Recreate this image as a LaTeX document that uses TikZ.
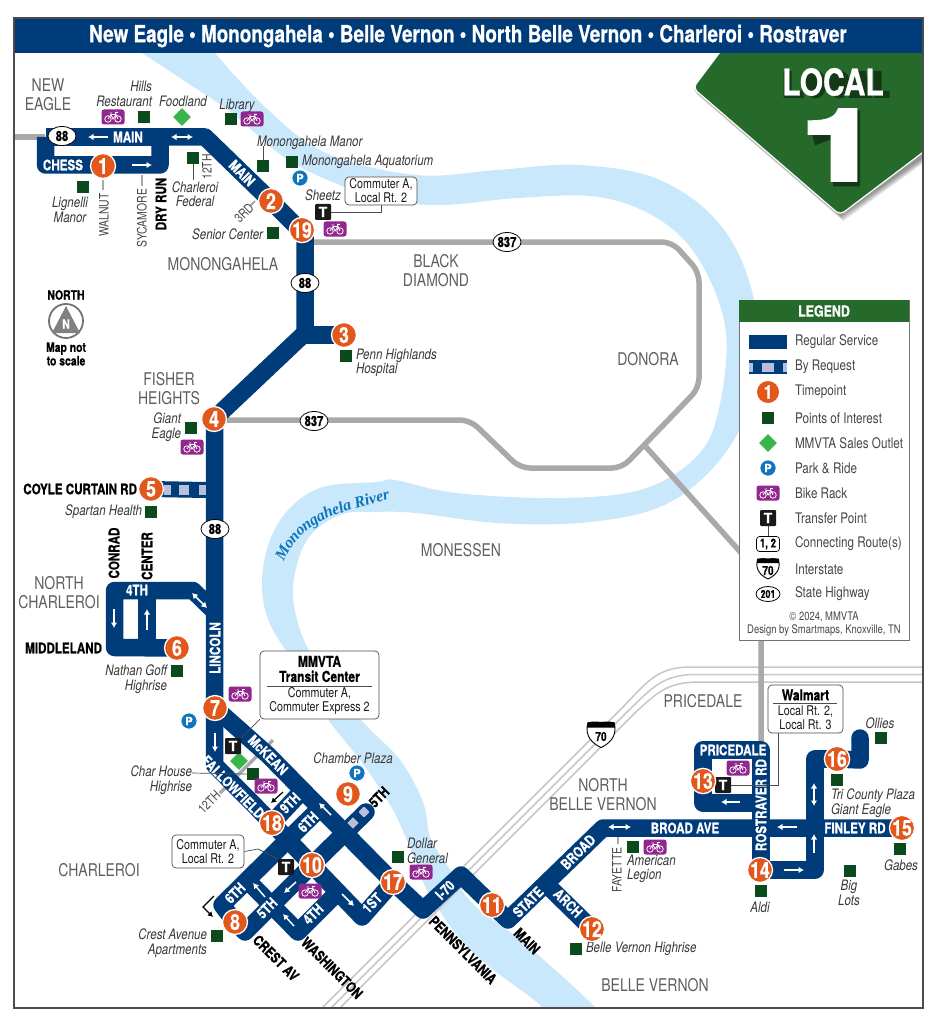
\documentclass[tikz,border=0pt]{standalone}
\usepackage{fontspec}
\setmainfont{TeX Gyre Heros}[BoldFeatures={FakeBold=1}]
\newfontfamily\cond{TeX Gyre Heros}[FakeStretch=0.8,BoldFeatures={FakeBold=.7}]
\newfontfamily\bigone{TeX Gyre Heros}[BoldFeatures={FakeBold=6}]
\newfontfamily\rfont{Liberation Serif}
\usetikzlibrary{shapes.geometric,arrows.meta,decorations.text}
\definecolor{routeblue}{HTML}{003B7A}
\definecolor{stoporange}{HTML}{E2581C}
\definecolor{poigreen}{HTML}{0B4A1C}
\definecolor{salegreen}{HTML}{39B54A}
\definecolor{river}{HTML}{C9E8FB}
\definecolor{road}{HTML}{A9A9A9}
\definecolor{signgreen}{HTML}{25692B}
\definecolor{bikepurple}{HTML}{92278F}
\definecolor{pblue}{HTML}{0F75BC}
\definecolor{towngray}{HTML}{5F5F5F}
\definecolor{paleblue}{HTML}{B7BFDD}
\newcount\nodec
\newcommand\nid{\global\advance\nodec by 1 }
\newcommand\Lab[3][]{\nid\node[lab,#1] (L\the\nodec) at (#2) {#3};}
\newcommand\poi[1]{\nid\node[poibox] (Q\the\nodec) at (#1) {};}
\newcommand\pride[1]{\nid\node[pcirc] (P\the\nodec) at (#1) {P};}
\newcommand\sale[1]{\nid\node[salebox] (D\the\nodec) at (#1) {};}
\newcommand\shield[2]{\nid\node[stateshield] (H\the\nodec) at (#1) {#2};}
\newcommand\bike[1]{\nid\node[bikebox] (B\the\nodec) at (#1) {};
 \begin{scope}[shift={(#1)},white,line width=.8pt]
 \draw (-5,2) circle[radius=3.2pt]; \draw (5,2) circle[radius=3.2pt];
 \draw (-5,2)--(-2,-2.5)--(3,-2.5)--(5,2) (-2,-2.5)--(0,2)--(3,-2.5) (-3.5,-4)--(-1,-4) (3,-2.5)--(2.5,-4.6)--(4.8,-4.6);
 \end{scope}}
\newcommand\ishield[3]{\begin{scope}[shift={(#1)},scale=#3]
 \draw[fill=white,draw=black,line width=.9pt,line join=round] (-13,-12.5) -- (13,-12.5) .. controls (15.5,-4) and (14,6) .. (0,12.5) .. controls (-14,6) and (-15.5,-4) .. (-13,-12.5) -- cycle;
 \fill[black] (-13,-12.5) .. controls (-8,-14) and (-4,-13.5) .. (0,-13) .. controls (4,-13.5) and (8,-14) .. (13,-12.5) -- (14,-7.5) -- (-14,-7.5) -- cycle;
 \end{scope}\nid\node[lab,font=\cond\bfseries\fontsize{12.5}{12}\selectfont] (I\the\nodec) at (#1) [yshift=-1.5pt] {#2};}
\tikzset{
 lab/.style={inner sep=0pt,outer sep=0pt},
 town/.style={font=\cond\fontsize{17.5}{19}\selectfont,text=towngray,align=center},
 poit/.style={font=\cond\itshape\fontsize{14.4}{14.5}\selectfont,text=black!78},
 street/.style={font=\cond\bfseries\fontsize{14.5}{15}\selectfont,text=white},
 sblack/.style={font=\cond\bfseries\fontsize{14.5}{15}\selectfont,text=black},
 sgray/.style={font=\cond\fontsize{13}{13}\selectfont,text=black!72},
 legt/.style={font=\cond\fontsize{14.6}{15}\selectfont,text=black!72,anchor=west},
 ctext/.style={font=\cond\fontsize{13.4}{14}\selectfont,text=black!90,align=center},
 chead/.style={font=\cond\bfseries\fontsize{15}{15}\selectfont,text=black,align=center},
 poibox/.style={fill=poigreen,minimum size=12.5pt,inner sep=0pt},
 salebox/.style={diamond,fill=salegreen,minimum size=18pt,inner sep=0pt},
 bikebox/.style={fill=bikepurple,rounded corners=2.5pt,minimum width=23pt,minimum height=15pt,inner sep=0pt},
 pcirc/.style={circle,fill=pblue,draw=white,line width=.6pt,minimum size=16pt,inner sep=0pt,text=white,font=\bfseries\fontsize{11}{11}\selectfont},
 tbox/.style={fill=black!90,rounded corners=1pt,minimum size=16pt,inner sep=0pt,text=white,font=\bfseries\fontsize{14}{14}\selectfont},
 stateshield/.style={ellipse,draw=black,fill=white,line width=.8pt,minimum width=28pt,minimum height=19pt,inner sep=0pt,font=\cond\bfseries\fontsize{14}{13}\selectfont},
 stopdot/.style={circle,fill=stoporange,draw=white,line width=1.3pt,minimum size=25pt,inner sep=0pt,text=white,font=\cond\bfseries\fontsize{22}{22}\selectfont},
 callout/.style={draw=black!70,fill=white,rounded corners=4pt,line width=.7pt,inner sep=0pt},
 route/.style={draw=routeblue,line width=17.5pt,line join=round},
 graywide/.style={draw=road,line width=5.5pt,line join=round,rounded corners=10pt},
 iroad/.style={draw=black!22,line width=1.5pt},
 tick/.style={draw=road,line width=2pt},
 leader/.style={draw=black!70,line width=.7pt},
 warr/.style={draw=white,line width=1.5pt,-{Latex[length=5.5pt,width=6.5pt]}},
 warrb/.style={draw=white,line width=1.5pt,{Latex[length=5.5pt,width=6.5pt]}-{Latex[length=5.5pt,width=6.5pt]}},
 barr/.style={draw=black,line width=1.2pt,-{Latex[length=5pt,width=6pt]}},
 pale/.style={fill=paleblue,inner sep=0pt,minimum size=9pt},
}
\begin{document}
\begin{tikzpicture}[x=1pt,y=-1pt]
\useasboundingbox (0,0) rectangle (937,1024);
\fill[white] (0,0) rectangle (937,1024);
\foreach \n/\x/\y in {1/103/166,2/271/201,3/344/335,4/214/419,5/151/489,6/177/648,7/215/708,8/235/922,9/348/794,10/312/865,11/492/905,12/592/929,13/703/781,14/760/870,15/902/828,16/837/759,17/393/882,18/272/823,19/302/230}{\coordinate (s\n) at (\x,\y);}
\begin{scope}
\clip (14,18) rectangle (923,1008);
% river
\fill[river] plot[smooth,tension=.6] coordinates {(208,45)(265,107)(326,153)(416,175)(497,170)(579,165)(660,180)(722,227)(754,300)(754,383)(738,433)(701,480)(652,510)(579,523)(497,523)(416,513)(375,512)(340,515)(307,540)(293,589)(303,638)(327,676)(363,722)(400,760)(423,802)(430,837)(447,865)(473,904)(523,942)(593,1005)(600,1020)(545,1020)(540,1005)(490,967)(457,935)(427,890)(413,855)(393,810)(363,764)(327,718)(303,676)(270,624)(262,582)(270,540)(290,508)(323,487)(377,482)(395,480)(456,493)(558,498)(640,490)(693,460)(717,417)(726,333)(701,263)(660,220)(599,197)(518,198)(440,205)(375,197)(293,163)(232,113)(183,80)(130,45)} -- cycle;
% sign
\foreach \o in {1,2,...,7}{\fill[black,opacity=.07] (723,50) -- ({693+\o*.5},{88+\o*.9}) -- ({840+\o*.5},{215+\o*.9}) -- (930,{152+\o*.9}) -- (930,50) -- cycle;}
\draw[fill=signgreen,draw=white,line width=1.2pt,rounded corners=5pt] (723,48) -- (693,88) -- (840,215) -- (926,150) -- (926,48) -- cycle;
% sign letter shadows
\begin{scope}[shift={(2.5,3)}]
\fill[black,opacity=.45] (781,68) -- (789,68) -- (789,88) -- (801,88) -- (801,95) -- (781,95) -- cycle (813,81.5) ellipse[x radius=11pt,y radius=14pt] (837,81.5) ellipse[x radius=11pt,y radius=14pt] (846,95) -- (853,68) -- (863,68) -- (870,95) -- cycle (871,68) -- (879,68) -- (879,88) -- (887,88) -- (887,95) -- (871,95) -- cycle;
\end{scope}
\begin{scope}[shift={(3,3.5)}]
\fill[black,opacity=.45] (839,107) -- (857,107) -- (857,183) -- (830,183) -- (830,135) -- (812,142) -- (808,127) -- cycle;
\end{scope}
% interstate
\draw[iroad] (318,1012) -- (620,710) .. controls (645,685) and (655,667) .. (690,667) -- (930,667);
\draw[iroad] (327,1012) -- (629,710) .. controls (652,688) and (663,674.5) .. (695,674.5) -- (930,674.5);
\draw[iroad] (336,1012) -- (638,710) .. controls (660,690) and (670,682) .. (700,682) -- (930,682);
% roads
\draw[graywide] (15,137) -- (45,137);
\draw[graywide] (305,242) -- (672,242) -- (699,272) -- (699,388) -- (622,468) -- (520,468) -- (470,420) -- (214,420);
\draw[draw=road,line width=5.5pt,line join=round] (646,447) -- (761,575) -- (761,750);
\draw[draw=road,line width=3.5pt] (220,793) -- (273,740);
\draw[tick] (103,180) -- (103,190);
\draw[tick] (142,175) -- (142,186);
\draw[tick] (618,836) -- (618,844);
\draw[tick] (250,206) -- (255,201);
% routes
\draw[route] (45.5,137) -- (45.5,165) -- (160,165) -- (160,137) -- (205,137) -- (s2) -- (305,235) -- (305,333) -- (s4) -- (214.5,420) -- (214.5,708);
\draw[route] (45.5,137) -- (160,137);
\draw[route] (305,335) -- (s3);
\draw[route] (214.5,708) -- (214.5,765) -- (s18) -- (s10) -- (362,917) -- (s17);
\draw[route] (s7) -- (268,755) -- (s17) -- (423,910) -- (461,875) -- (s11) -- (508,920) -- (603,828) -- (s15);
\draw[route,line cap=round] (320,808) -- (222,905) -- (s8) -- (245,932) -- (s10) -- (366,812);
\draw[route] (s18) -- (303,790);
\draw[route] (245,878) -- (298,932) -- (338,892);
\draw[route] (547,885) -- (s12);
\draw[route] (761,870) -- (761,750) -- (703,750) -- (703,803) -- (761,803);
\draw[route] (s14) -- (815,870) -- (815,759) -- (s16);
\draw[route,line cap=round] (s16) -- (860,760) -- (860,738);
\draw[route] (214,611) -- (193,590.5) -- (114.5,590.5) -- (114.5,647.5) -- (s6);
\draw[route] (147,590) -- (147,647);
\draw[route,line width=16pt] (s5) -- (206,490);
\nid\node[pale,minimum width=7pt,minimum height=10pt] (R\the\nodec) at (167,490) {};
\nid\node[pale,minimum width=10pt,minimum height=10pt] (R\the\nodec) at (184,490) {};
\nid\node[pale,minimum width=7pt,minimum height=10pt] (R\the\nodec) at (202,490) {};
\nid\node[pale,rotate=45,minimum size=8pt] (R\the\nodec) at (353,823) {};
\nid\node[pale,rotate=45,minimum size=8pt,rounded corners=1pt] (R\the\nodec) at (364,812) {};
% white arrows
\draw[warr] (108,137) -- (88,137);
\draw[warrb] (171,137) -- (193,137);
\draw[warr] (132,165) -- (152,165);
\draw[warr] (114,609) -- (114,628);
\draw[warr] (147,630) -- (147,609);
\draw[warrb] (192,593) -- (207,608);
\draw[warr] (215,733) -- (215,752);
\draw[warr] (331,815) -- (319,803);
\draw[warr] (265,897) -- (253,883);
\draw[warr] (294,926) -- (283,914);
\draw[warr] (296,882) -- (284,893);
\draw[warr] (342,894) -- (354,906);
\draw[warrb] (608,827) -- (631,827);
\draw[warr] (740,802) -- (721,802);
\draw[warr] (797,827) -- (777,827);
\draw[warrb] (814,783) -- (814,806);
\draw[warr] (814,853) -- (814,834);
\draw[warr] (784,870) -- (804,870);
\draw[barr] (283,792) -- (271,803);
\draw[barr] (214,896) -- (203,907) -- (213,917);
% town names
\Lab[town]{48,95}{NEW\\EAGLE}
\Lab[town]{223,264}{MONONGAHELA}
\Lab[town]{436,271}{BLACK\\DIAMOND}
\Lab[town]{648,359}{DONORA}
\Lab[town]{169,389}{FISHER\\HEIGHTS}
\Lab[town]{461,550}{MONESSEN}
\Lab[town]{59,593}{NORTH\\CHARLEROI}
\Lab[town]{99,870}{CHARLEROI}
\Lab[town]{703,701}{PRICEDALE}
\Lab[town]{603,795}{NORTH\\BELLE VERNON}
\Lab[town]{655,985}{BELLE VERNON}
% river label
\path[decorate,decoration={text along path,text align=center,raise=-4pt,text={|\rfont\bfseries\itshape\fontsize{16}{16}\selectfont\color{pblue}|Monongahela River}}] (277,568) .. controls (295,515) and (340,508) .. (398,493);
% white street labels
\Lab[street]{128,137}{MAIN}
\Lab[street]{63,165}{CHESS}
\Lab[street,rotate=-45]{242,173}{MAIN}
\Lab[street]{137,590}{4TH}
\Lab[street,rotate=90]{215,648}{LINCOLN}
\Lab[street,rotate=-45]{268,755}{McKEAN}
\Lab[street,rotate=-45]{233,787}{FALLOWFIELD}
\Lab[street,rotate=45]{290,803}{9TH}
\Lab[street,rotate=45]{308,822}{6TH}
\Lab[street,rotate=45]{235,893}{6TH}
\Lab[street,rotate=45]{267,908}{5TH}
\Lab[street,rotate=45]{313,914}{4TH}
\Lab[street,rotate=45]{372,903}{1ST}
\Lab[street,rotate=45]{445,890}{I-70}
\Lab[street,rotate=45]{528,902}{STATE}
\Lab[street,rotate=45]{578,852}{BROAD}
\Lab[street,rotate=-45]{568,903}{ARCH}
\Lab[street]{685,828}{BROAD AVE}
\Lab[street]{733,750}{PRICEDALE}
\Lab[street,rotate=90]{761,805}{ROSTRAVER RD}
\Lab[street]{855,828}{FINLEY RD}
% black and gray street labels
\Lab[sblack,rotate=90]{161,204}{DRY RUN}
\Lab[sgray,rotate=90]{104,215}{WALNUT}
\Lab[sgray,rotate=90]{142,218}{SYCAMORE}
\Lab[sgray,rotate=90]{207,167}{12TH}
\Lab[sgray,rotate=45]{244,213}{3RD}
\Lab[sblack,anchor=east]{137,489}{COYLE CURTAIN RD}
\Lab[sblack,rotate=90]{114,553}{CONRAD}
\Lab[sblack,rotate=90]{147,556}{CENTER}
\Lab[sblack,anchor=east]{102,648}{MIDDLELAND}
\Lab[sgray,rotate=45]{209,802}{12TH}
\Lab[sblack,rotate=45]{379,797}{5TH}
\Lab[sblack,rotate=-45]{276,958}{CREST AV}
\Lab[sblack,rotate=-45]{332,968}{WASHINGTON}
\Lab[sblack,rotate=-45]{463,950}{PENNSYLVANIA}
\Lab[sblack,rotate=-45]{527,941}{MAIN}
\Lab[sgray,rotate=90]{617,870}{FAYETTE}
% points of interest
\Lab[poit,align=right,anchor=east]{152,94}{Hills\\Restaurant}
\bike{113,117} \poi{144,117}
\Lab[poit]{183,101}{Foodland}
\sale{182,117}
\Lab[poit]{237,106}{Library}
\poi{231,119} \bike{252,119}
\Lab[poit,anchor=west]{257,143}{Monongahela Manor}
\nid\node[poibox] (manor) at (263,166) {};
\draw[leader] (manor.north) -- ++(0,-14);
\poi{292,162}
\Lab[poit,anchor=west]{302,162}{Monongahela Aquatorium}
\pride{300,178}
\Lab[poit]{323,195}{Sheetz}
\nid\node[poibox] (charfed) at (193,158) {};
\draw[leader] (charfed.south) -- ++(0,16);
\Lab[poit,align=center]{195,194}{Charleroi\\Federal}
\poi{83,187}
\Lab[poit,align=center]{70,210}{Lignelli\\Manor}
\Lab[poit,anchor=east]{263,234}{Senior Center}
\poi{273,233}
\bike{335,229}
\poi{346,356}
\Lab[poit,align=left,anchor=west]{356,363}{Penn Highlands\\Hospital}
\Lab[poit,align=right,anchor=east]{181,427}{Giant\\Eagle}
\poi{191,428} \bike{192,447}
\Lab[poit,anchor=east]{142,512}{Spartan Health}
\poi{151,512}
\Lab[poit,align=right,anchor=east]{167,679}{Nathan Goff\\Highrise}
\poi{177,671}
\bike{240,694}
\pride{189,721}
\sale{239,761}
\nid\node[poibox] (charhouse) at (253,774) {};
\Lab[poit,align=right,anchor=east]{192,780}{Char House\\Highrise}
\draw[leader] (192,773) -- (charhouse.west);
\bike{266,786}
\Lab[poit]{353,758}{Chamber Plaza}
\pride{357,773}
\poi{398,857}
\Lab[poit,align=left,anchor=west]{407,851}{Dollar\\General}
\bike{421,872}
\bike{310,891}
\Lab[poit,align=right,anchor=east]{207,943}{Crest Avenue\\Apartments}
\poi{217,936}
\poi{576,949}
\Lab[poit,anchor=west]{586,949}{Belle Vernon Highrise}
\poi{633,847} \bike{655,847}
\Lab[poit,align=left,anchor=west]{627,869}{American\\Legion}
\bike{738,768}
\poi{761,891}
\Lab[poit]{760,907}{Aldi}
\poi{850,871}
\Lab[poit,align=center]{849,893}{Big\\Lots}
\poi{900,849}
\Lab[poit]{901,865}{Gabes}
\poi{837,780}
\Lab[poit,align=left,anchor=west]{831,803}{Tri County Plaza\\Giant Eagle}
\poi{881,738}
\Lab[poit]{880,723}{Ollies}
% shields
\shield{62,136}{88}
\shield{305,283}{88}
\shield{215,529}{88}
\shield{507,242}{837}
\shield{314,421}{837}
\ishield{601,735}{70}{1}
% transfer points and callouts
\node[tbox] (tSheetz) at (323,212) {T};
\node[callout,minimum width=72pt,minimum height=28pt] (boxSheetz) at (381,191) {};
\draw[leader] (tSheetz.east) -| (boxSheetz.south);
\Lab[ctext]{381,191}{Commuter A,\\Local Rt. 2}
\node[tbox] (tTransit) at (233,746) {T};
\node[callout,minimum width=119pt,minimum height=68pt] (boxTransit) at (319.5,685) {};
\draw[leader] (tTransit.north east) -- (boxTransit.south west);
\Lab[chead]{319.5,669}{MMVTA\\Transit Center}
\draw[leader] (267,686) -- (372,686);
\Lab[ctext]{319.5,700.5}{Commuter A,\\Commuter Express 2}
\node[tbox] (tTen) at (286,867) {T};
\node[callout,minimum width=72pt,minimum height=33pt] (boxTen) at (208,851.5) {};
\draw[leader] (boxTen.east) -- (258,849) -- (tTen.north west);
\Lab[ctext]{208,851.5}{Commuter A,\\Local Rt. 2}
\node[tbox] (tWal) at (723,785) {T};
\node[callout,minimum width=75pt,minimum height=48pt] (boxWal) at (805.5,709) {};
\coordinate (wmfoot) at (778,733);
\draw[leader] (tWal.east) -| (wmfoot);
\Lab[chead]{805.5,695}{Walmart}
\draw[leader] (773,703) -- (837,703);
\Lab[ctext]{805.5,718}{Local Rt. 2,\\Local Rt. 3}
% stops
\foreach \n in {1,...,19}{\node[stopdot] (n\n) at (s\n) {\n};}
% north
\Lab[font=\cond\bfseries\fontsize{13}{13}\selectfont]{66,295}{NORTH}
\nid\node[circle,draw=black!55,line width=1.8pt,fill=white,minimum size=34pt,inner sep=0pt] (northring) at (66,321) {};
\fill[black!50] (66,306) -- (80,333) -- (52,333) -- cycle;
\Lab[font=\cond\bfseries\fontsize{13}{13}\selectfont,text=white]{66,324}{N}
\Lab[font=\cond\bfseries\fontsize{13}{13.5}\selectfont,align=center]{66,354}{Map not\\to scale}
\end{scope}
% header
\fill[routeblue] (14,18) rectangle (923,53);
\Lab[font=\cond\bfseries\fontsize{23.6}{24}\selectfont,text=white]{468,36}{New Eagle • Monongahela • Belle Vernon • North Belle Vernon • Charleroi • Rostraver}
% sign text
\Lab[font=\bfseries\fontsize{37}{37}\selectfont,text=white,xscale=.81]{833,82}{LOCAL}
\Lab[font=\bigone\bfseries\fontsize{96}{96}\selectfont,text=white,xscale=1.4]{840,145}{1}
% legend
\node[draw=black!55,fill=white,line width=.8pt,minimum width=170pt,minimum height=340pt,inner sep=0pt] (legendbox) at (824,470) {};
\fill[signgreen] (739,300) rectangle (909,322);
\Lab[font=\cond\bfseries\fontsize{15.5}{16}\selectfont,text=white]{824,311}{LEGEND}
\fill[routeblue] (749,335) rectangle (787,349);
\Lab[legt]{795,342}{Regular Service}
\fill[routeblue] (749,360) rectangle (787,374);
\nid\node[pale,minimum width=3.5pt,minimum height=9pt] (R\the\nodec) at (751,367) {};
\nid\node[pale,minimum width=12pt,minimum height=9pt] (R\the\nodec) at (768,367) {};
\nid\node[pale,minimum width=3.5pt,minimum height=9pt] (R\the\nodec) at (785,367) {};
\Lab[legt]{795,367}{By Request}
\nid\node[stopdot,draw=none,minimum size=22pt,font=\cond\bfseries\fontsize{19}{19}\selectfont] (legendstop) at (768,392) {1};
\Lab[legt]{795,392}{Timepoint}
\poi{768,418}
\Lab[legt]{795,418}{Points of Interest}
\sale{768,443}
\Lab[legt]{795,443}{MMVTA Sales Outlet}
\pride{768,468}
\Lab[legt]{795,468}{Park \& Ride}
\bike{768,493}
\Lab[legt]{795,493}{Bike Rack}
\node[tbox] (legendT) at (768,518) {T};
\Lab[legt]{795,518}{Transfer Point}
\node[callout,rounded corners=3pt,minimum width=23pt,minimum height=15pt,draw=black,font=\cond\bfseries\fontsize{12}{12}\selectfont] (legendroute) at (768,544) {1, 2};
\draw[leader] (legendT.south) -- (legendroute.north);
\Lab[legt]{795,544}{Connecting Route(s)}
\ishield{768,569}{70}{.8}
\Lab[legt]{795,569}{Interstate}
\nid\node[stateshield,minimum width=24pt,minimum height=15pt,font=\cond\bfseries\fontsize{11}{11}\selectfont] (legendstate) at (768,594) {201};
\Lab[legt]{795,594}{State Highway}
\Lab[font=\cond\fontsize{11.8}{13}\selectfont,text=black!72,align=center]{824,623.5}{© 2024, MMVTA\\Design by Smartmaps, Knoxville, TN}
% frame
\draw[black!70,line width=1.8pt] (14,18) rectangle (923,1008);
\end{tikzpicture}
\end{document}
